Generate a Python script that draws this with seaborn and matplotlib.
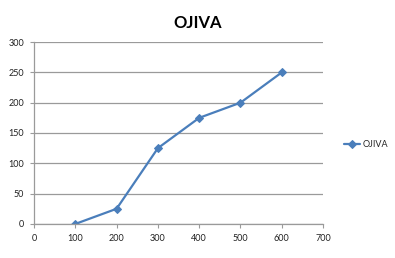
import matplotlib
matplotlib.use("Agg")
import matplotlib.pyplot as plt
import seaborn as sns
import pandas as pd

x_values = [100, 200, 300, 400, 500, 600]
y_values = [0, 25, 125, 175, 200, 250]
series_name = "OJIVA"
title = "OJIVA"

df = pd.DataFrame({"x": x_values, "y": y_values, "s": [series_name] * len(x_values)})

sns.set_theme(style="white")
plt.rcParams['font.family'] = ['Lato', 'DejaVu Sans']

fig = plt.figure(figsize=(3.95, 2.58), dpi=100)
ax = fig.add_axes([0.086, 0.132, 0.732, 0.705])

color = "#4A7EBB"
sns.lineplot(data=df, x="x", y="y", hue="s", palette=[color], marker="D",
             markersize=4.5, markeredgecolor=color, linewidth=1.6, ax=ax)

ax.set_xlim(0, 700)
ax.set_ylim(0, 300)
ax.set_xticks(range(0, 701, 100))
ax.set_yticks(range(0, 301, 50))
ax.yaxis.grid(True, color="#9a9a9a", linewidth=0.9)
ax.set_axisbelow(True)
for s in ["top", "right"]:
    ax.spines[s].set_visible(False)
for s in ["left", "bottom"]:
    ax.spines[s].set_color("#9a9a9a")
    ax.spines[s].set_linewidth(0.9)
ax.tick_params(axis="both", which="both", length=3, width=0.8, color="#9a9a9a",
               labelsize=6.5, labelcolor="#222222", direction="out", pad=4)
ax.tick_params(axis="x", bottom=True)
ax.tick_params(axis="y", left=True)
ax.set_xlabel("")
ax.set_ylabel("")

fig.text(0.5, 0.91, title, ha="center", va="center", fontsize=12, fontweight="bold", color="black")

handles, labels = ax.get_legend_handles_labels()
ax.legend(handles, labels, loc="center left", bbox_to_anchor=(1.06, 0.435), frameon=False,
          fontsize=6.5, handlelength=1.8, handletextpad=0.2, borderaxespad=0)

fig.savefig("out.png", dpi=100)
